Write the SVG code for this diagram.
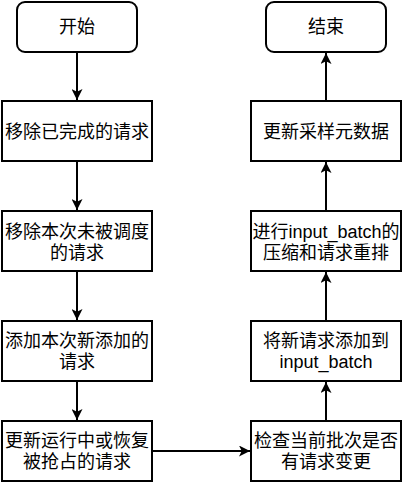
<svg xmlns="http://www.w3.org/2000/svg" width="404" height="482" viewBox="0 0 404 482">
<defs>
<style>
.box{fill:#ffffff;stroke:#000000;stroke-width:2}
.t{font-family:"Liberation Sans","Noto Sans CJK SC",sans-serif;font-size:18px;fill:#000000;text-anchor:middle}
.c{fill:none;stroke:#000000;stroke-width:2}
</style>
<marker id="ah" viewBox="0 0 10 10" refX="10" refY="5" markerWidth="11" markerHeight="11" markerUnits="userSpaceOnUse" orient="auto">
<path d="M0,0 L10,5 L0,10 L2.5,5 Z" fill="#000000"/>
</marker>
</defs>
<rect width="404" height="482" fill="#ffffff"/>
<g id="connectors">
<line class="c" x1="77" y1="52" x2="77" y2="100" marker-end="url(#ah)"/>
<line class="c" x1="77" y1="161" x2="77" y2="210" marker-end="url(#ah)"/>
<line class="c" x1="77" y1="271" x2="77" y2="320" marker-end="url(#ah)"/>
<line class="c" x1="77" y1="381" x2="77" y2="420" marker-end="url(#ah)"/>
<line class="c" x1="152" y1="451" x2="250" y2="451" marker-end="url(#ah)"/>
<line class="c" x1="326" y1="421" x2="326" y2="382" marker-end="url(#ah)"/>
<line class="c" x1="326" y1="321" x2="326" y2="272" marker-end="url(#ah)"/>
<line class="c" x1="326" y1="211" x2="326" y2="162" marker-end="url(#ah)"/>
<line class="c" x1="326" y1="101" x2="326" y2="53" marker-end="url(#ah)"/>
</g>
<g id="start">
<rect class="box" x="17" y="2" width="120" height="50" rx="8"/>
<text class="t" x="77" y="33">开始</text>
</g>
<g id="n1">
<rect class="box" x="2" y="101" width="150" height="60"/>
<text class="t" x="77" y="137.5">移除已完成的请求</text>
</g>
<g id="n2">
<rect class="box" x="2" y="211" width="150" height="60"/>
<text class="t" x="77" y="237.5">移除本次未被调度</text>
<text class="t" x="77" y="258.5">的请求</text>
</g>
<g id="n3">
<rect class="box" x="2" y="321" width="150" height="60"/>
<text class="t" x="77" y="347">添加本次新添加的</text>
<text class="t" x="77" y="368">请求</text>
</g>
<g id="n4">
<rect class="box" x="2" y="421" width="150" height="60"/>
<text class="t" x="77" y="447">更新运行中或恢复</text>
<text class="t" x="77" y="468">被抢占的请求</text>
</g>
<g id="n5">
<rect class="box" x="251" y="421" width="150" height="60"/>
<text class="t" x="326" y="447">检查当前批次是否</text>
<text class="t" x="326" y="468">有请求变更</text>
</g>
<g id="n6">
<rect class="box" x="251" y="321" width="150" height="60"/>
<text class="t" x="326" y="347">将新请求添加到</text>
<text class="t" x="326" y="368">input_batch</text>
</g>
<g id="n7">
<rect class="box" x="251" y="211" width="150" height="60"/>
<text class="t" x="326" y="237.5">进行input_batch的</text>
<text class="t" x="326" y="258.5">压缩和请求重排</text>
</g>
<g id="n8">
<rect class="box" x="251" y="101" width="150" height="60"/>
<text class="t" x="326" y="137.5">更新采样元数据</text>
</g>
<g id="end">
<rect class="box" x="266" y="2" width="120" height="50" rx="8"/>
<text class="t" x="326" y="33">结束</text>
</g>
</svg>
